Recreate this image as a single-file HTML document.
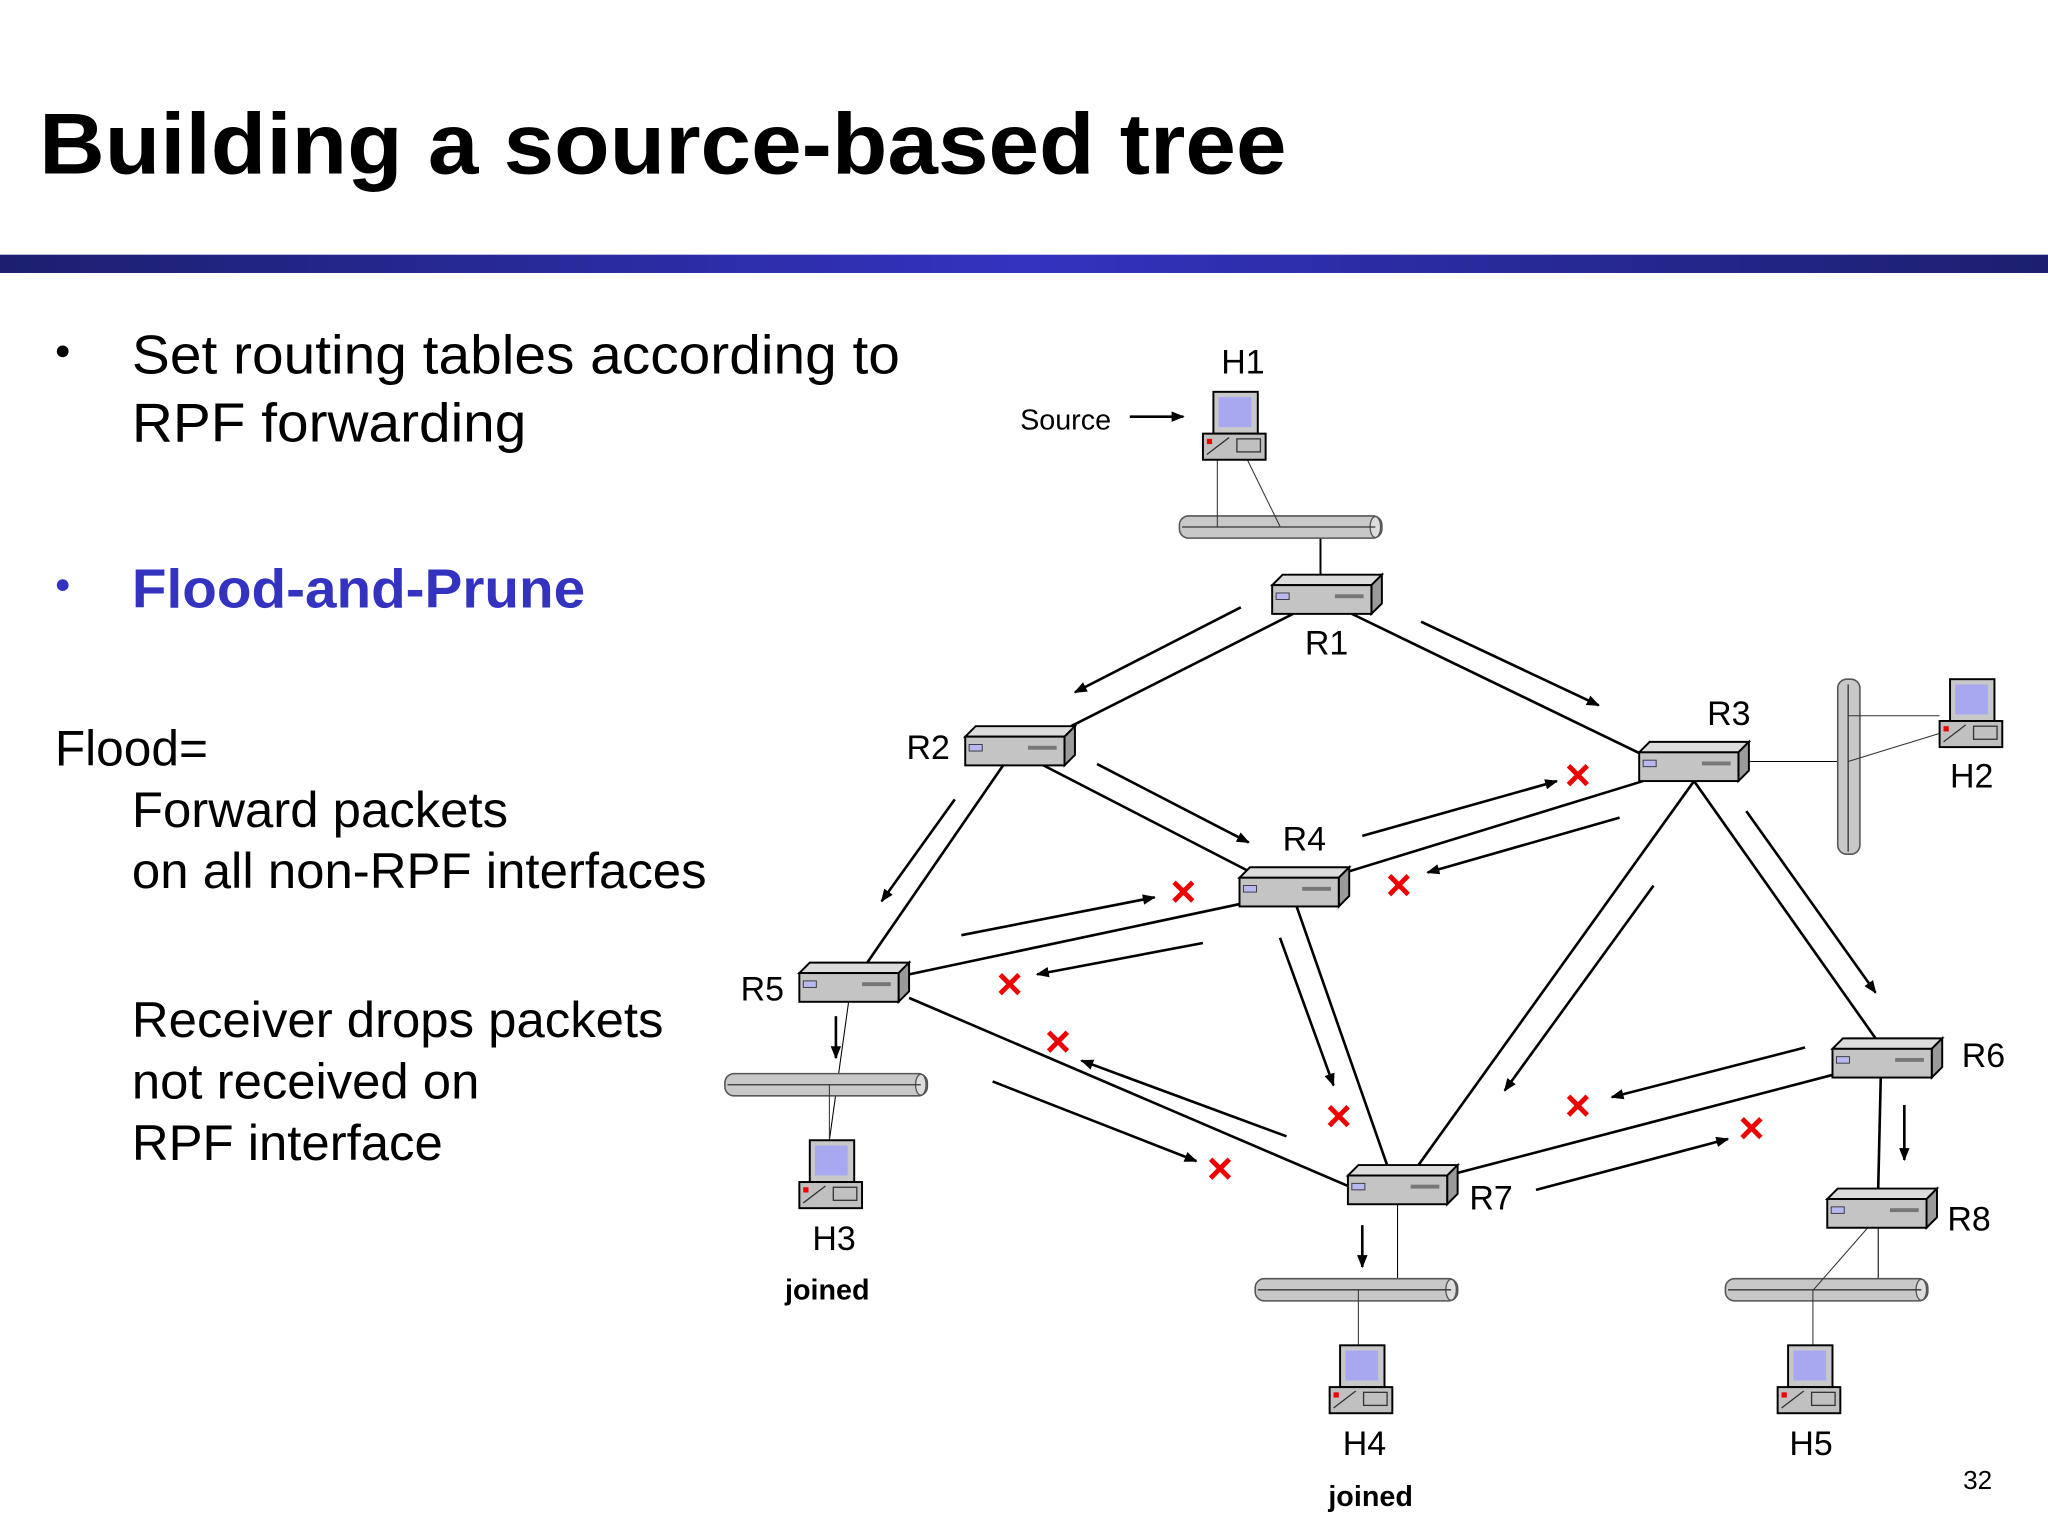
<!DOCTYPE html>
<html><head><meta charset="utf-8"><style>
html,body{margin:0;padding:0;background:#fff;width:2048px;height:1536px;overflow:hidden}
svg{display:block}
text{font-family:"Liberation Sans",sans-serif}
</style></head><body>
<svg width="2048" height="1536" viewBox="0 0 1568 1176" xmlns="http://www.w3.org/2000/svg">
<defs>
<linearGradient id="bar" x1="0" x2="1" y1="0" y2="0">
<stop offset="0" stop-color="#1c1f6e"/><stop offset="0.5" stop-color="#3333c0"/><stop offset="1" stop-color="#1c1f6e"/>
</linearGradient>
<marker id="ah" markerWidth="10" markerHeight="8" refX="9" refY="4" orient="auto" markerUnits="userSpaceOnUse">
<path d="M0,0 L10,4 L0,8 Z" fill="#000"/></marker>
<g id="rt">
<path d="M0,8 L8,0 L84,0 L76,8 Z" fill="#dcdcdc" stroke="#000" stroke-width="1.5"/>
<path d="M76,8 L84,0 L84,22 L76,30 Z" fill="#9a9a9a" stroke="#000" stroke-width="1.5"/>
<rect x="0" y="8" width="76" height="22" fill="#c4c4c4" stroke="#000" stroke-width="1.5"/>
<rect x="3" y="14" width="10" height="5" fill="#b8b8f0" stroke="#333" stroke-width="0.7"/>
<rect x="48" y="15" width="22" height="3" fill="#777"/>
</g>
<g id="pc">
<rect x="8" y="0" width="34" height="32" fill="#c8c8c8" stroke="#000" stroke-width="1.5"/>
<rect x="12" y="4" width="25" height="23" fill="#a8a8f0"/>
<rect x="0" y="32" width="48" height="20" fill="#c0c0c0" stroke="#000" stroke-width="1.5"/>
<rect x="3" y="36" width="4" height="4" fill="#e00"/>
<line x1="3" y1="48" x2="20" y2="35" stroke="#333"/>
<rect x="26" y="36" width="18" height="10" fill="none" stroke="#333"/>
</g>
<g id="pipe">
<rect x="0" y="0" width="155" height="17" rx="7" fill="#c8c8c8" stroke="#555" stroke-width="1.2"/>
<ellipse cx="150" cy="8.5" rx="4" ry="8" fill="#ddd" stroke="#555"/>
<line x1="2" y1="8.5" x2="150" y2="8.5" stroke="#333" stroke-width="1"/>
</g>
</defs>
<text x="30" y="133" font-size="66" font-weight="bold" textLength="955" lengthAdjust="spacingAndGlyphs">Building a source-based tree</text>
<rect x="0" y="195" width="1568" height="14" fill="url(#bar)"/>
<g font-size="42">
<circle cx="48" cy="269" r="4.5" fill="#000"/>
<text x="101" y="286" textLength="588" lengthAdjust="spacingAndGlyphs">Set routing tables according to</text>
<text x="101" y="338" textLength="302" lengthAdjust="spacingAndGlyphs">RPF forwarding</text>
<circle cx="48" cy="448" r="4.5" fill="#3333c0"/>
<text x="101" y="465" fill="#3333c0" font-weight="bold" textLength="347" lengthAdjust="spacingAndGlyphs">Flood-and-Prune</text>
<text x="42" y="586" font-size="38">Flood=</text>
<text x="101" y="633" font-size="38" textLength="288" lengthAdjust="spacingAndGlyphs">Forward packets</text>
<text x="101" y="680" font-size="38" textLength="440" lengthAdjust="spacingAndGlyphs">on all non-RPF interfaces</text>
<text x="101" y="794" font-size="38" textLength="407" lengthAdjust="spacingAndGlyphs">Receiver drops packets</text>
<text x="101" y="841" font-size="38" textLength="266" lengthAdjust="spacingAndGlyphs">not received on</text>
<text x="101" y="888" font-size="38" textLength="238" lengthAdjust="spacingAndGlyphs">RPF interface</text>
</g>
<g stroke="#000" stroke-width="2" fill="none">
<line x1="990" y1="470" x2="820" y2="556"/>
<line x1="1035" y1="470" x2="1258" y2="578"/>
<line x1="795" y1="584" x2="958" y2="668"/>
<line x1="768" y1="586" x2="664" y2="737"/>
<line x1="1258" y1="598" x2="1030" y2="668"/>
<line x1="1297" y1="598" x2="1086" y2="892"/>
<line x1="1297" y1="598" x2="1436" y2="795"/>
<line x1="950" y1="692" x2="696" y2="746"/>
<line x1="992" y1="692" x2="1062" y2="892"/>
<line x1="696" y1="764" x2="1032" y2="908"/>
<line x1="1116" y1="898" x2="1403" y2="823"/>
<line x1="1440" y1="823" x2="1438" y2="910"/>
<line x1="1011" y1="395" x2="1011" y2="440" stroke-width="1.5"/>
<line x1="650" y1="765" x2="635" y2="873" stroke-width="0.8"/>
<line x1="1070" y1="920" x2="1070" y2="979" stroke-width="0.8"/>
<line x1="1438" y1="938" x2="1438" y2="979" stroke-width="0.8"/>
<line x1="1335" y1="583" x2="1415" y2="583" stroke-width="0.8"/>
</g>
<use href="#pipe" x="903" y="395"/>
<use href="#pipe" x="555" y="822"/>
<use href="#pipe" x="961" y="979"/>
<use href="#pipe" x="1321" y="979"/>
<rect x="1407" y="520" width="17" height="134" rx="7" fill="#c8c8c8" stroke="#555" stroke-width="1.2"/>
<line x1="1415" y1="524" x2="1415" y2="652" stroke="#333"/>
<g stroke="#333" stroke-width="0.8">
<line x1="932" y1="352" x2="932" y2="403"/><line x1="955" y1="352" x2="980" y2="403"/>
<line x1="635" y1="830" x2="635" y2="873"/>
<line x1="1040" y1="988" x2="1040" y2="1030"/>
<line x1="1388" y1="988" x2="1388" y2="1030"/><line x1="1388" y1="988" x2="1430" y2="940"/>
<line x1="1415" y1="548" x2="1485" y2="548"/><line x1="1415" y1="583" x2="1490" y2="560"/>
</g>
<use href="#pc" x="921" y="300"/>
<use href="#pc" x="612" y="873"/>
<use href="#pc" x="1018" y="1030"/>
<use href="#pc" x="1361" y="1030"/>
<use href="#pc" x="1485" y="520"/>
<use href="#rt" x="974" y="440"/>
<use href="#rt" x="739" y="556"/>
<use href="#rt" x="1255" y="568"/>
<use href="#rt" x="949" y="664"/>
<use href="#rt" x="612" y="737"/>
<use href="#rt" x="1403" y="795"/>
<use href="#rt" x="1032" y="892"/>
<use href="#rt" x="1399" y="910"/>
<g stroke="#000" stroke-width="2" marker-end="url(#ah)">
<line x1="950" y1="465" x2="823" y2="530"/>
<line x1="1088" y1="476" x2="1224" y2="540"/>
<line x1="840" y1="585" x2="956" y2="645"/>
<line x1="731" y1="612" x2="675" y2="690"/>
<line x1="1043" y1="640" x2="1192" y2="598"/>
<line x1="1240" y1="626" x2="1093" y2="668"/>
<line x1="736" y1="716" x2="884" y2="687"/>
<line x1="921" y1="722" x2="794" y2="746"/>
<line x1="760" y1="828" x2="916" y2="889"/>
<line x1="985" y1="870" x2="828" y2="812"/>
<line x1="980" y1="718" x2="1021" y2="831"/>
<line x1="1266" y1="678" x2="1152" y2="835"/>
<line x1="1337" y1="621" x2="1436" y2="760"/>
<line x1="1382" y1="802" x2="1234" y2="840"/>
<line x1="1176" y1="911" x2="1323" y2="872"/>
<line x1="1458" y1="846" x2="1458" y2="888"/>
<line x1="640" y1="778" x2="640" y2="810"/>
<line x1="1043" y1="938" x2="1043" y2="970"/>
<line x1="865" y1="319" x2="906" y2="319"/>
</g>
<g fill="#e00" font-size="34" font-weight="bold" text-anchor="middle">
<text x="1208" y="605">×</text><text x="1071" y="689">×</text><text x="906" y="694">×</text>
<text x="773" y="765">×</text><text x="810" y="809">×</text><text x="934" y="906">×</text>
<text x="1025" y="866">×</text><text x="1208" y="858">×</text><text x="1341" y="875">×</text>
</g>
<g font-size="26">
<text x="935" y="286">H1</text>
<text x="781" y="329" font-size="22">Source</text>
<text x="999" y="501">R1</text>
<text x="694" y="581">R2</text>
<text x="1307" y="555">R3</text>
<text x="982" y="651">R4</text>
<text x="567" y="766">R5</text>
<text x="1502" y="817">R6</text>
<text x="1125" y="926">R7</text>
<text x="1491" y="942">R8</text>
<text x="1493" y="603">H2</text>
<text x="622" y="957">H3</text>
<text x="1028" y="1114">H4</text>
<text x="1370" y="1114">H5</text>
<text x="601" y="995" font-size="22" font-weight="bold">joined</text>
<text x="1017" y="1153" font-size="22" font-weight="bold">joined</text>
<text x="1503" y="1140" font-size="20" font-family="Liberation Serif">32</text>
</g>
</svg>
</body></html>
